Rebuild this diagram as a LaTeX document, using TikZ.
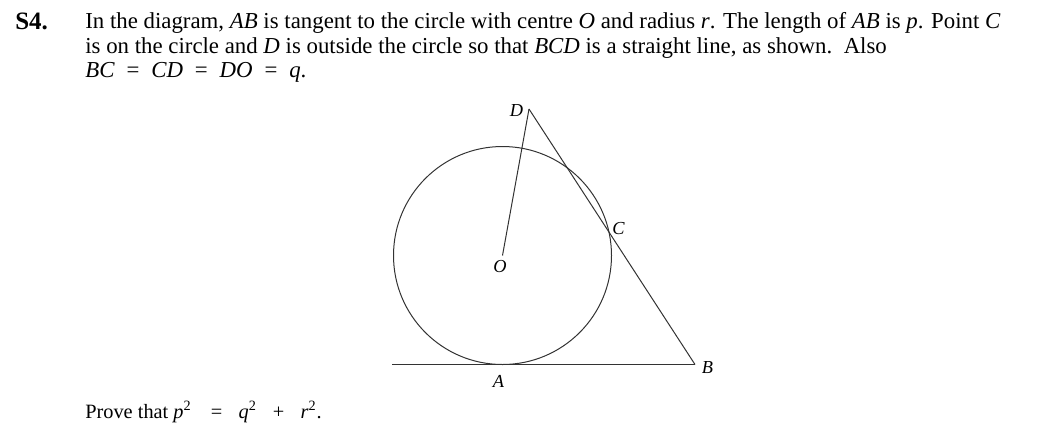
\documentclass[tikz,border=0pt]{standalone}
\usepackage{fontspec}
\setmainfont{Liberation Serif}
\usepackage{tikz}
\usetikzlibrary{calc,positioning,intersections}
\tikzset{>=latex}
\newcommand{\eqgap}[1][0.52em]{\hspace{#1}}

\begin{document}
\begin{tikzpicture}[x=0.6pt,y=-0.6pt,
    txt/.style={anchor=base west,inner sep=0pt,font=\fontsize{13.7}{15}\selectfont},
    lbl/.style={inner sep=0pt,font=\fontsize{11}{13}\selectfont\itshape},
    geo/.style={line width=0.6pt,draw=black!80}]
  \useasboundingbox (0,0) rectangle (1037,440);

  % question
  \node[txt,font=\fontsize{15}{17}\selectfont\bfseries] (num) at (15,29.5) {S4.};
  \node[txt] (line1) at (85,28.5) {In the diagram, \textit{AB} is tangent to the circle with centre \textit{O} and radius \textit{r}. The length of \textit{AB} is \textit{p}. Point \textit{C}};
  \node[txt] (line2) at (85,53) {is on the circle and \textit{D} is outside the circle so that \textit{BCD} is a straight line, as shown.\ \ Also};
  \node[txt] (line3) at (85,77.5) {\textit{BC}\eqgap=\eqgap\textit{CD}\eqgap=\eqgap\textit{DO}\eqgap=\eqgap\textit{q}.};

  % figure
  \coordinate (O) at (502.5,255.5);
  \coordinate (A) at (502.5,364.5);
  \coordinate (B) at (695,364.5);
  \coordinate (D) at (529,109);
  \coordinate (L) at (392,364.5);
  \draw[geo,name path=ring] (O) circle[radius=109];
  \draw[geo] (L) -- (A) -- (B);
  \draw[geo,name path=bd] (B) -- (D);
  \draw[geo] (D) -- (O);
  \path[name intersections={of=ring and bd,sort by=bd}] coordinate (C) at (intersection-1);

  \node[lbl] (labD) at ($(D)+(-12.5,2)$) {D};
  \node[lbl] (labC) at ($(C)+(9.5,-3.5)$) {C};
  \node[lbl] (labO) at ($(O)+(-2.5,11.5)$) {O};
  \node[lbl] (labA) at ($(A)+(-4,16.5)$) {A};
  \node[lbl] (labB) at ($(B)+(12.5,3.5)$) {B};

  % what to prove
  \node[txt,font=\fontsize{12.2}{14}\selectfont] (prove) at (85,418) {Prove that \textit{p}\textsuperscript{2}\eqgap[0.95em]=\eqgap[0.8em]\textit{q}\textsuperscript{2}\eqgap[0.8em]+\eqgap[0.8em]\textit{r}\textsuperscript{2}.};
\end{tikzpicture}
\end{document}
